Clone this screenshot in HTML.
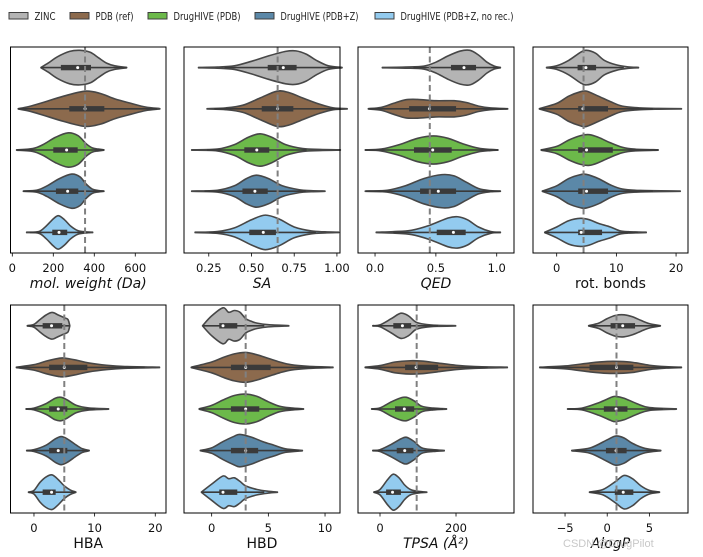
<!DOCTYPE html>
<html><head><meta charset="utf-8">
<style>
body{margin:0;background:#fff;}
svg{display:block;font-family:"DejaVu Sans","Liberation Sans",sans-serif;}
</style></head>
<body>
<svg id="chart" width="703" height="557" viewBox="0 0 703 557"></svg>
<script>
const groups = ["ZINC","PDB (ref)","DrugHIVE (PDB)","DrugHIVE (PDB+Z)","DrugHIVE (PDB+Z, no rec.)"];
const colors = ["#b4b4b4","#8c6a4d","#6cb94a","#5b88a8","#93cbef"];

const panelTitles = ["mol. weight (Da)","SA","QED","rot. bonds","HBA","HBD","TPSA (Å²)","AlogP"];
const panelItalic = [true,true,true,false,false,false,true,true];
const panelDomains = [[-8.8,750],[0.105,1.018],[-0.14,1.142],[-3.97,22.0],[-3.87,21.77],[-2.44,11.32],[-57.9,352.6],[-8.8,9.58]];
const panelTicks = [[0,200,400,600],[0.25,0.5,0.75,1.0],[0,0.5,1.0],[0,10,20],[0,10,20],[0,5,10],[0,200],[-5,0,5]];
const tickLabels = [["0","200","400","600"],["0.25","0.50","0.75","1.00"],["0.0","0.5","1.0"],["0","10","20"],["0","10","20"],["0","5","10"],["0","200"],["−5","0","5"]];
const refLines = [355,0.653,0.45,4.5,5,3,96.5,1.1];

// box stats per panel: [q1, median, q3] for each group
const boxes = [
 [[237,319,384],[278,355,449],[200,265,319],[213,270,322],[195,228,268]],
 [[0.595,0.686,0.764],[0.56,0.653,0.745],[0.458,0.531,0.604],[0.447,0.52,0.595],[0.487,0.569,0.643]],
 [[0.624,0.731,0.83],[0.28,0.447,0.666],[0.32,0.474,0.63],[0.37,0.52,0.666],[0.507,0.644,0.745]],
 [[3.5,4.9,6.6],[3.6,4.4,8.6],[3.6,5.0,9.4],[3.6,5.0,8.6],[3.6,4.1,7.6]],
 [[1.43,2.9,4.67],[2.5,5,8.8],[2.5,4.0,5.5],[2.5,4.0,5.5],[1.43,2.9,3.58]],
 [[0.67,1.0,2.26],[1.7,3.0,5.2],[1.7,3.0,4.2],[1.7,3.0,4.1],[0.67,1.0,2.26]],
 [[35,59,82],[66,95,153],[39.5,64,90],[44,65,88],[16,33,55]],
 [[0.4,1.84,3.3],[-2.1,1.1,3.1],[-0.4,1.05,2.4],[-0.15,1.05,2.3],[0.9,1.9,3.1]]
];

// violin density knots per panel/group: [value, relative half-width]
const knots = [
 [
  [[140,0.01],[175,0.25],[220,0.6],[280,0.9],[330,0.96],[380,0.85],[420,0.55],[460,0.25],[500,0.1],[558,0.01]],
  [[29,0.01],[80,0.12],[150,0.35],[250,0.7],[355,0.98],[430,0.85],[500,0.55],[580,0.3],[650,0.1],[720,0.01]],
  [[21,0.01],[100,0.08],[150,0.3],[210,0.7],[270,0.95],[320,0.8],[360,0.35],[390,0.12],[420,0.05],[447,0.01]],
  [[54,0.01],[120,0.06],[170,0.3],[230,0.7],[290,0.95],[330,0.8],[360,0.4],[390,0.12],[420,0.04],[447,0.01]],
  [[70,0.01],[130,0.05],[165,0.35],[200,0.75],[225,0.93],[255,0.7],[285,0.35],[320,0.1],[360,0.03],[392,0.01]]
 ],
 [
  [[0.19,0.01],[0.3,0.03],[0.4,0.1],[0.5,0.35],[0.6,0.65],[0.7,0.9],[0.76,0.93],[0.82,0.75],[0.88,0.4],[0.95,0.1],[1.03,0.01]],
  [[0.24,0.01],[0.35,0.05],[0.45,0.2],[0.55,0.6],[0.65,0.98],[0.72,0.9],[0.8,0.6],[0.9,0.25],[0.98,0.05],[1.06,0.01]],
  [[0.15,0.01],[0.3,0.05],[0.4,0.3],[0.48,0.7],[0.55,0.9],[0.62,0.7],[0.7,0.3],[0.8,0.08],[0.9,0.03],[1.02,0.01]],
  [[0.15,0.01],[0.3,0.05],[0.4,0.3],[0.47,0.7],[0.53,0.89],[0.6,0.7],[0.68,0.3],[0.78,0.08],[0.85,0.03],[0.93,0.01]],
  [[0.17,0.01],[0.3,0.05],[0.4,0.25],[0.5,0.7],[0.58,0.96],[0.66,0.75],[0.75,0.3],[0.85,0.08],[0.93,0.03],[1.01,0.01]]
 ],
 [
  [[0.06,0.01],[0.25,0.03],[0.4,0.08],[0.5,0.3],[0.6,0.65],[0.7,0.92],[0.78,0.96],[0.85,0.7],[0.92,0.3],[0.98,0.08],[1.03,0.01]],
  [[-0.055,0.01],[0.05,0.08],[0.15,0.3],[0.25,0.5],[0.35,0.52],[0.5,0.45],[0.65,0.45],[0.75,0.35],[0.85,0.15],[0.95,0.05],[1.09,0.01]],
  [[-0.08,0.01],[0.05,0.05],[0.2,0.3],[0.35,0.65],[0.48,0.78],[0.6,0.65],[0.72,0.35],[0.85,0.1],[0.95,0.03],[1.01,0.01]],
  [[-0.08,0.01],[0.1,0.05],[0.25,0.3],[0.4,0.7],[0.55,0.92],[0.65,0.85],[0.75,0.5],[0.85,0.15],[0.95,0.03],[1.03,0.01]],
  [[0.01,0.01],[0.15,0.04],[0.3,0.12],[0.45,0.4],[0.6,0.8],[0.68,0.87],[0.76,0.7],[0.85,0.3],[0.95,0.05],[1.03,0.01]]
 ],
 [
  [[-1.7,0.01],[0,0.1],[2,0.4],[4,0.85],[5,0.96],[6.5,0.8],[8,0.4],[10,0.15],[12,0.04],[13.7,0.01]],
  [[-2.9,0.01],[0,0.3],[2,0.7],[4,0.95],[5,0.98],[7,0.7],[9,0.4],[11,0.15],[14,0.05],[17,0.02],[20.9,0.01]],
  [[-2.6,0.01],[0,0.2],[2,0.55],[4,0.8],[5.5,0.85],[7,0.7],[9,0.4],[11,0.15],[13,0.05],[17,0.01]],
  [[-2.4,0.01],[0,0.3],[2,0.7],[4,0.92],[5,0.93],[7,0.7],[9,0.35],[11,0.12],[14,0.04],[20.7,0.01]],
  [[-2,0.01],[0,0.3],[2,0.65],[4,0.78],[5.5,0.7],[7,0.5],[9,0.3],[10.5,0.1],[12,0.04],[15,0.01]]
 ],
 [
  [[-1.1,0.01],[0,0.08],[1,0.35],[2,0.6],[3,0.74],[4,0.6],[5,0.45],[5.6,0.35],[5.9,0.02]],
  [[-2.9,0.01],[0,0.15],[2,0.35],[4,0.5],[5,0.52],[7,0.4],[9,0.25],[12,0.12],[15,0.05],[20.7,0.01]],
  [[-1.3,0.01],[0,0.05],[2,0.3],[3.5,0.6],[4.5,0.65],[5.5,0.5],[7,0.2],[9,0.06],[12.3,0.01]],
  [[-1.2,0.01],[0,0.05],[2,0.3],[3.5,0.65],[4.5,0.78],[5.5,0.65],[7,0.3],[8,0.1],[9.1,0.01]],
  [[-0.9,0.01],[0,0.1],[1,0.55],[2,0.85],[3,0.96],[4,0.7],[5,0.35],[6,0.12],[6.9,0.01]]
 ],
 [
  [[-0.8,0.01],[0,0.55],[1,1.0],[1.5,0.75],[2,0.85],[2.5,0.75],[3,0.4],[3.5,0.25],[4,0.15],[5,0.06],[6.8,0.01]],
  [[-1.8,0.01],[0,0.3],[1,0.55],[2,0.75],[3,0.83],[4,0.7],[5,0.5],[6,0.3],[7,0.15],[8.5,0.06],[10.7,0.01]],
  [[-1.1,0.01],[0,0.2],[1,0.5],[2,0.75],[3,0.83],[4,0.7],[5,0.4],[6,0.15],[7,0.06],[8.1,0.01]],
  [[-1,0.01],[0,0.15],[1,0.5],[2,0.8],[2.5,0.9],[3.5,0.75],[4.5,0.5],[5.5,0.3],[6.5,0.1],[8,0.01]],
  [[-0.9,0.01],[0,0.45],[1,0.9],[1.5,0.75],[2,0.8],[2.5,0.6],[3,0.35],[4,0.15],[5,0.05],[5.8,0.01]]
 ],
 [
  [[-19,0.01],[0,0.05],[30,0.4],[55,0.7],[75,0.55],[95,0.2],[120,0.08],[150,0.03],[199,0.01]],
  [[-39,0.01],[0,0.1],[40,0.3],[80,0.37],[110,0.35],[150,0.25],[200,0.12],[250,0.05],[335,0.01]],
  [[-22,0.01],[0,0.06],[30,0.4],[55,0.62],[70,0.65],[90,0.45],[110,0.15],[140,0.05],[175,0.01]],
  [[-19,0.01],[0,0.05],[30,0.35],[55,0.65],[70,0.74],[90,0.5],[110,0.15],[140,0.05],[169,0.01]],
  [[-16,0.01],[0,0.15],[20,0.7],[35,1.0],[50,0.8],[65,0.4],[80,0.15],[100,0.05],[123,0.01]]
 ],
 [
  [[-2.2,0.01],[-1,0.15],[0,0.4],[1,0.58],[2,0.61],[3,0.5],[4,0.3],[5,0.12],[6.3,0.01]],
  [[-8,0.01],[-5,0.08],[-2,0.25],[0,0.33],[1.5,0.33],[3,0.28],[5,0.12],[7,0.04],[8.8,0.01]],
  [[-4.7,0.01],[-3,0.05],[-1,0.35],[0.5,0.65],[1,0.7],[2,0.6],[3.5,0.3],[5,0.08],[8.2,0.01]],
  [[-4.2,0.01],[-2,0.15],[0,0.6],[1,0.81],[2,0.7],[3,0.4],[4.5,0.12],[6.35,0.01]],
  [[-2.1,0.01],[-0.5,0.15],[1,0.6],[2,0.93],[3,0.75],[4,0.35],[5,0.1],[6.2,0.01]]
 ]
];

const NS = "http://www.w3.org/2000/svg";
const svg = document.getElementById("chart");
function el(tag, attrs, parent){ const e=document.createElementNS(NS,tag); for(const k in attrs) e.setAttribute(k,attrs[k]); (parent||svg).appendChild(e); return e; }

const colX = [[10.5,166],[184,340],[358,514],[533,688]];
const rowY = [[47,253],[305,513]];
const HW = 18;

// legend
const legX = [9,70,148,255,375];
const legTextW = [21,38,67,78,113];
for(let i=0;i<groups.length;i++){
  const g = el("g",{});
  
  
  el("rect",{x:legX[i],y:12.5,width:19,height:6.5,fill:colors[i],stroke:"#3f3f3f","stroke-width":1},g);
  const t = el("text",{x:legX[i]+25.5,y:20,"font-size":10.5,fill:"#222",textLength:legTextW[i],lengthAdjust:"spacingAndGlyphs"},g);
  t.textContent = groups[i];
}

function smoothPath(pts){
  let d = "";
  for(let i=0;i<pts.length-1;i++){
    const p0=pts[Math.max(i-1,0)],p1=pts[i],p2=pts[i+1],p3=pts[Math.min(i+2,pts.length-1)];
    const c1=[p1[0]+(p2[0]-p0[0])/6,p1[1]+(p2[1]-p0[1])/6];
    const c2=[p2[0]-(p3[0]-p1[0])/6,p2[1]-(p3[1]-p1[1])/6];
    d += ` C${c1[0].toFixed(2)},${c1[1].toFixed(2)} ${c2[0].toFixed(2)},${c2[1].toFixed(2)} ${p2[0].toFixed(2)},${p2[1].toFixed(2)}`;
  }
  return d;
}

for(let p=0;p<8;p++){
  const col=p%4,row=Math.floor(p/4);
  const [x0,x1]=colX[col],[y0,y1]=rowY[row];
  const [d0,d1]=panelDomains[p];
  const xs = v => x0+(v-d0)/(d1-d0)*(x1-x0);
  const band=(y1-y0)/5;
  const yc = i => y0+band*(i+0.5);
  const g = el("g",{});
  
  
  for(let i=0;i<5;i++){
    const k = knots[p][i], c=yc(i);
    const top = k.map(q=>[xs(q[0]), c-q[1]*HW]);
    const bot = k.slice().reverse().map(q=>[xs(q[0]), c+q[1]*HW]);
    let d = `M${xs(k[0][0]).toFixed(2)},${c}` + ` L${top[0][0].toFixed(2)},${top[0][1].toFixed(2)}` + smoothPath(top)
      + ` L${xs(k[k.length-1][0]).toFixed(2)},${c} L${bot[0][0].toFixed(2)},${bot[0][1].toFixed(2)}` + smoothPath(bot) + " Z";
    const v = el("path",{d:d,fill:colors[i],stroke:"#474747","stroke-width":1.6,"stroke-linejoin":"round"},g);
    
    
    const [q1,med,q3]=boxes[p][i];
    const iqr=q3-q1;
    const lo=Math.max(k[0][0],q1-1.5*iqr), hi=Math.min(k[k.length-1][0],q3+1.5*iqr);
    const w = el("line",{x1:xs(lo),x2:xs(hi),y1:c,y2:c,stroke:"#3a3a3a","stroke-width":1.6},g);
    
    
    const b = el("rect",{x:xs(q1),y:c-2.7,width:xs(q3)-xs(q1),height:5.4,fill:"#3a3a3a"},g);
    
    
    const m = el("circle",{cx:xs(med),cy:c,r:1.5,fill:"#fff"},g);
    
    
  }
  const rl = el("line",{x1:xs(refLines[p]),x2:xs(refLines[p]),y1:y0,y2:y1,stroke:"#808080","stroke-width":2,"stroke-dasharray":"6,3.5"},g);
  
  
  const fr = el("rect",{x:x0,y:y0,width:x1-x0,height:y1-y0,fill:"none",stroke:"#000","stroke-width":1},g);
  
  
  panelTicks[p].forEach((t,j)=>{
    const tx=xs(t);
    const tk = el("line",{x1:tx,x2:tx,y1:y1,y2:y1+3.5,stroke:"#000","stroke-width":0.8},g);
    
    
    const tl = el("text",{x:tx,y:y1+19,"font-size":11.5,"text-anchor":"middle",fill:"#111"},g);
    
    
    tl.textContent = tickLabels[p][j];
  });
  const at = el("text",{x:(x0+x1)/2,y:y1+35,"font-size":14,"text-anchor":"middle",fill:"#111","font-style":panelItalic[p]?"italic":"normal"},g);
  
  
  at.textContent = panelTitles[p];
}
const wm = el("text",{x:563,y:547,"font-size":11,fill:"#c8c8c8","font-family":"Liberation Sans, sans-serif"});


wm.textContent = "CSDN @DrugPilot";
</script>
</body></html>
